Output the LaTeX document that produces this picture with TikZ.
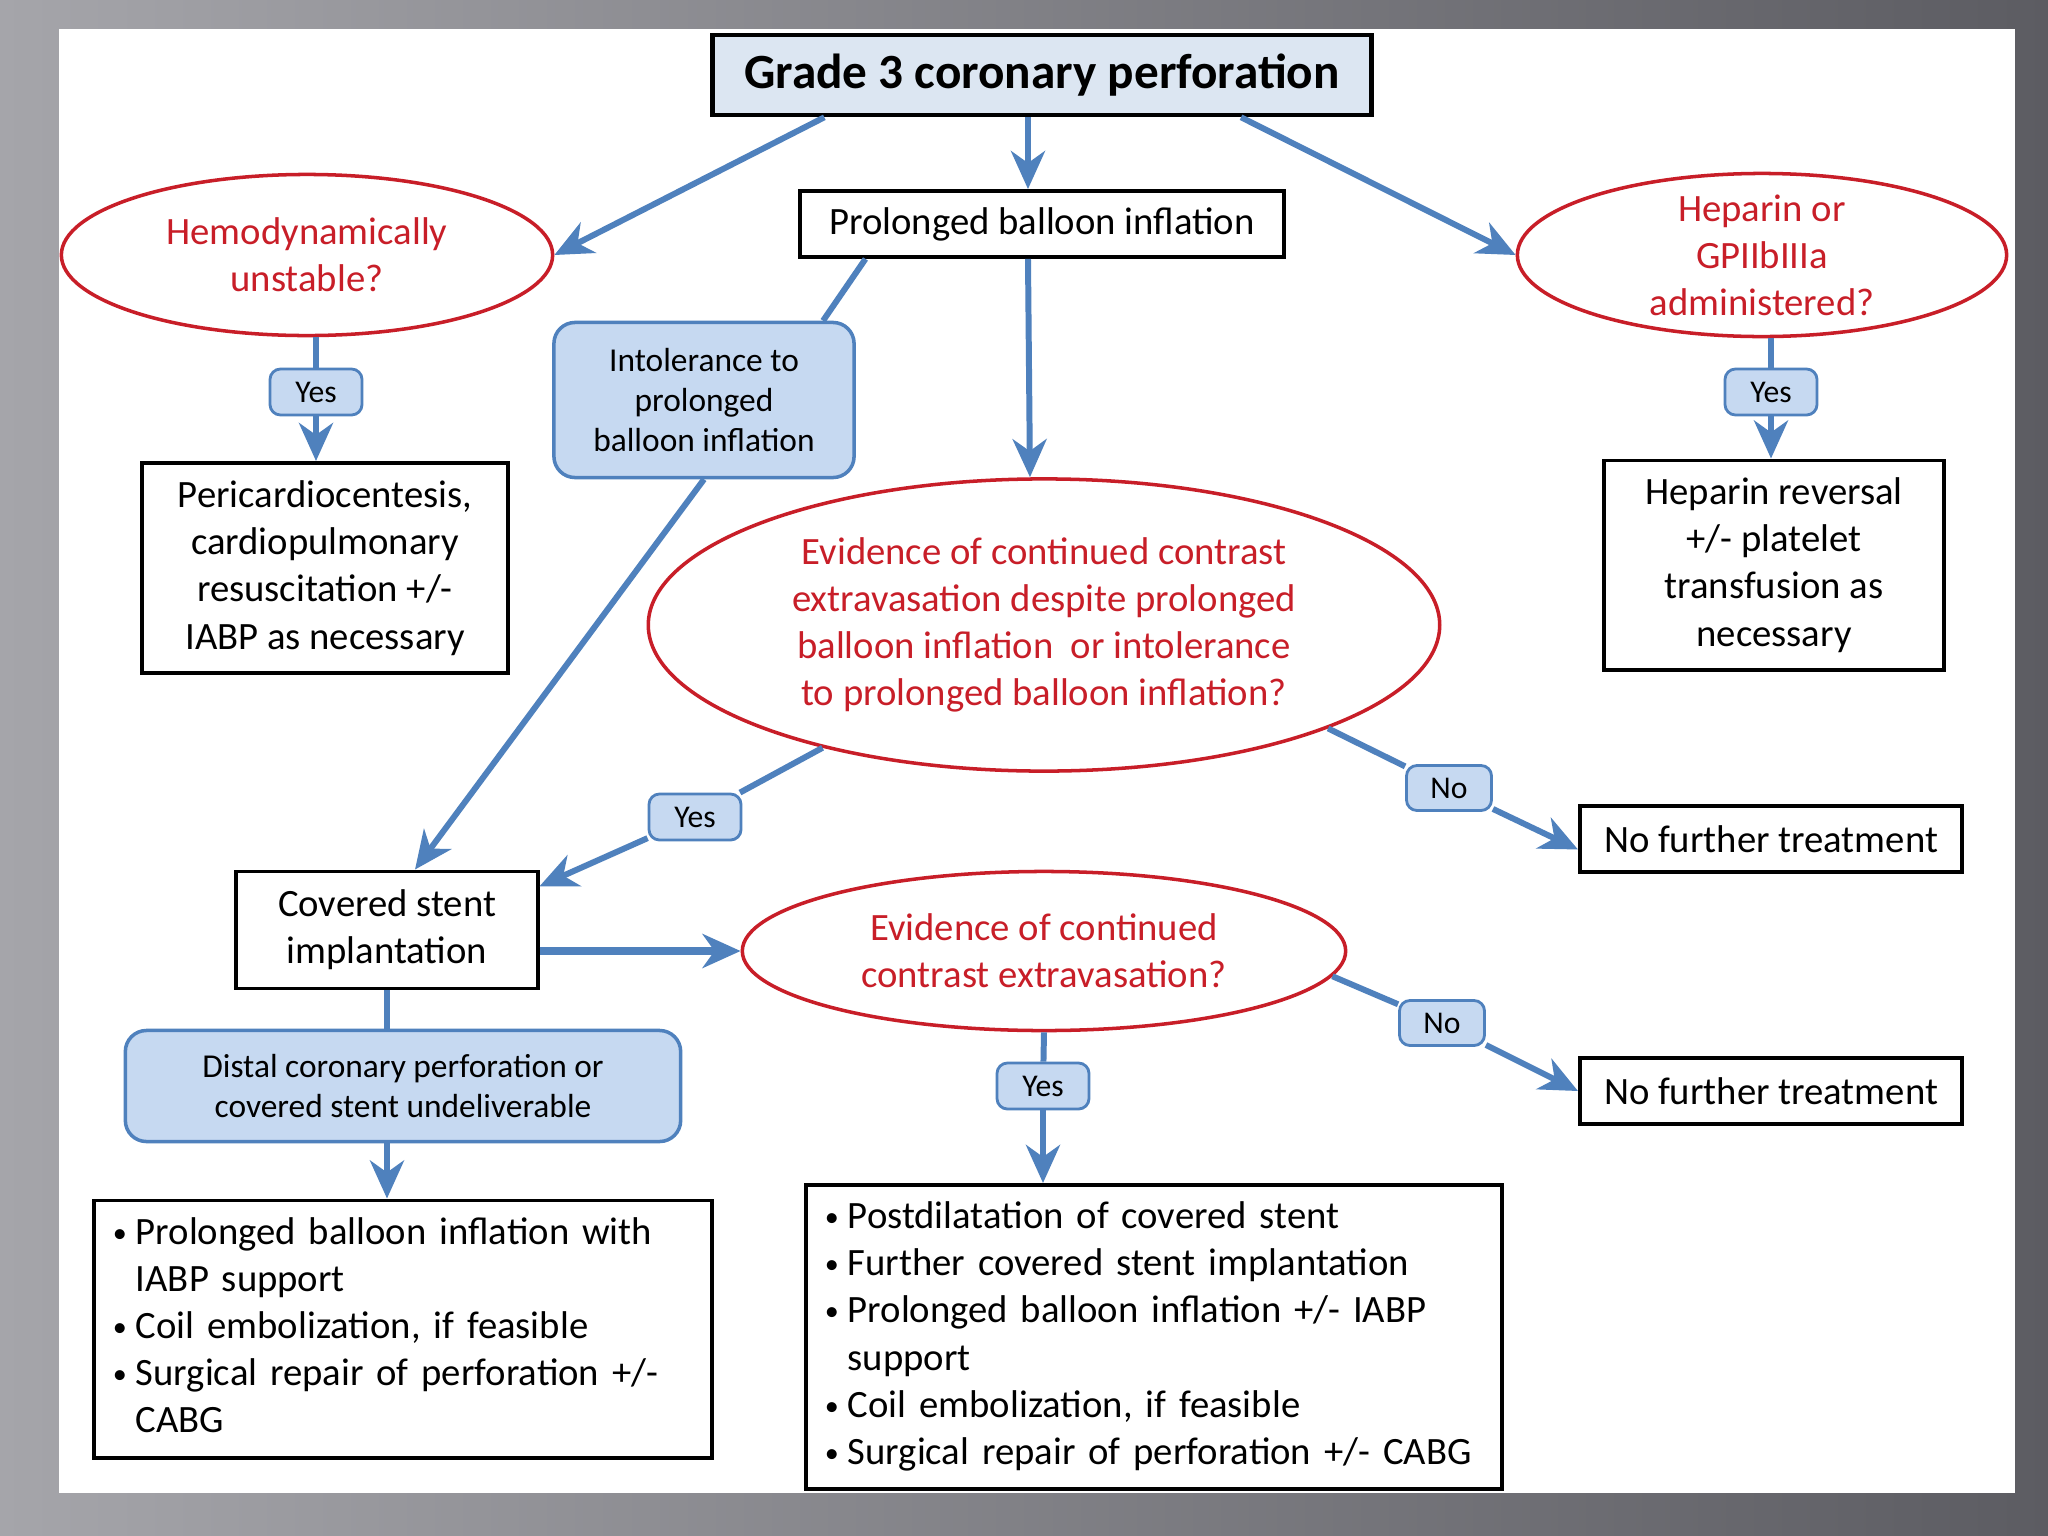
\documentclass[tikz,border=0pt]{standalone}
\usepackage{fontspec}
\setmainfont{Carlito}
\usetikzlibrary{arrows.meta,positioning,calc,shapes.geometric}

\definecolor{FlowBlue}{RGB}{79,129,189}
\definecolor{LabelBlue}{RGB}{198,217,241}
\definecolor{TitleBlue}{RGB}{220,230,242}
\definecolor{AskRed}{RGB}{200,30,40}
\definecolor{FrameLight}{RGB}{165,165,170}
\definecolor{FrameDark}{RGB}{92,92,98}

\newcommand{\bul}{\raisebox{0.6pt}{\fontsize{8}{8}\selectfont\textbullet}}

\tikzset{
  startbox/.style={rectangle, draw=black, line width=1.3pt, fill=TitleBlue,
    font=\fontsize{14}{17}\selectfont\bfseries, inner sep=0pt},
  stepbox/.style={rectangle, draw=black, line width=1.1pt, fill=white, align=center,
    font=\fontsize{11}{13.4}\selectfont, inner sep=0pt},
  question/.style={ellipse, draw=AskRed, line width=1pt, fill=white, text=AskRed,
    align=center, font=\fontsize{11}{13.4}\selectfont, inner sep=0pt},
  reason/.style={rectangle, rounded corners=6pt, draw=FlowBlue, line width=1pt,
    fill=LabelBlue, align=center, font=\fontsize{9.5}{11.4}\selectfont, inner sep=0pt},
  answer/.style={rectangle, rounded corners=3pt, draw=FlowBlue, line width=0.8pt,
    fill=LabelBlue, font=\fontsize{9}{11}\selectfont, inner sep=0pt,
    minimum width=0.92cm, minimum height=0.46cm},
  listbox/.style={stepbox, align=left, inner xsep=0.19cm},
  link/.style={draw=FlowBlue, line width=1.7pt},
  flow/.style={link, -{Stealth[length=0.38cm, width=0.34cm, inset=0.12cm]}},
}

\begin{document}
\begin{tikzpicture}[x=0.01cm, y=-0.01cm]
\useasboundingbox (0,0) rectangle (2048,1536);
% grey frame and white sheet
\shade[left color=FrameLight, right color=FrameDark] (0,0) rectangle (2048,1536);
\fill[white] (59,29) rectangle (2015,1493);

% top row
\node[startbox, minimum width=6.59cm, minimum height=0.80cm] (grade) at (1042,75) {Grade 3 coronary perforation};
\node[stepbox, minimum width=4.83cm, minimum height=0.66cm] (pbi) at (1042,224) {Prolonged balloon inflation};
\node[question, minimum width=4.91cm, minimum height=1.61cm] (hemo) at (307,255) {Hemodynamically\\unstable?};
\node[question, minimum width=4.89cm, minimum height=1.63cm, inner ysep=-0.1cm] (hep) at (1762,255) {Heparin or\\GPIIbIIIa\\administered?};

% answers to the side questions
\node[answer] (yes1) at (316,392) {Yes};
\node[answer] (yes2) at (1771,392) {Yes};
\node[stepbox, minimum width=3.65cm, minimum height=2.10cm] (peri) at (325,568) {Pericardiocentesis,\\cardiopulmonary\\resuscitation +/-\\IABP as necessary};
\node[stepbox, minimum width=3.39cm, minimum height=2.09cm] (heprev) at (1774,565) {Heparin reversal\\+/- platelet\\transfusion as\\necessary};

% middle
\node[question, minimum width=7.91cm, minimum height=2.92cm] (bigq) at (1044,625) {Evidence of continued contrast\\extravasation despite prolonged\\balloon inflation\ \ or intolerance\\to prolonged balloon inflation?};
\node[stepbox, minimum width=3.01cm, minimum height=1.17cm] (covered) at (387,930) {Covered stent\\implantation};
\node[stepbox, minimum width=3.82cm, minimum height=0.66cm] (nf1) at (1771,839) {No further treatment};
\node[question, minimum width=6.03cm, minimum height=1.59cm] (smallq) at (1044,951) {Evidence of continued\\contrast extravasation?};
\node[stepbox, minimum width=3.82cm, minimum height=0.66cm] (nf2) at (1771,1091) {No further treatment};
\node[answer] (yes3) at (695,817) {Yes};
\node[answer, minimum width=0.85cm, minimum height=0.45cm] (no1) at (1449,788) {No};
\node[answer, minimum width=0.85cm, minimum height=0.45cm] (no2) at (1442,1023) {No};
\node[answer] (yes4) at (1043,1086) {Yes};
\node[reason, minimum width=5.55cm, minimum height=1.11cm] (distal) at (403,1086) {Distal coronary perforation or\\covered stent undeliverable};

% bottom lists
\node[listbox, text width=5.80cm, minimum height=2.57cm] (list1) at (403,1329) {%
  \begin{tabular}{@{}p{0.23cm}@{}l@{}}
    \bul & Prolonged balloon inflation with\\
         & IABP support\\
    \bul & Coil embolization, if feasible\\
    \bul & Surgical repair of perforation +/-\\
         & CABG
  \end{tabular}};
\node[listbox, text width=6.58cm, minimum height=3.04cm] (list2) at (1154,1337) {%
  \begin{tabular}{@{}p{0.23cm}@{}l@{}}
    \bul & Postdilatation of covered stent\\
    \bul & Further covered stent implantation\\
    \bul & Prolonged balloon inflation +/- IABP\\
         & support\\
    \bul & Coil embolization, if feasible\\
    \bul & Surgical repair of perforation +/- CABG
  \end{tabular}};

% connectors
\draw[flow] (grade.191) -- (hemo.east);
\draw[flow] ([xshift=-0.14cm]grade.south) -- ([xshift=-0.14cm]pbi.north);
\draw[flow] (grade.-12) -- (hep.west);
\draw[link] (hemo.south -| yes1) -- (yes1);
\draw[flow] (yes1) -- (yes1 |- peri.north);
\draw[link] (hep.south -| yes2) -- (yes2);
\draw[flow] (yes2) -- (yes2 |- heprev.north);
\draw[flow] ([xshift=-0.14cm]pbi.south) -- ([xshift=-0.14cm]bigq.north);
\node[reason, minimum width=3.00cm, minimum height=1.55cm] (intol) at (704,400) {Intolerance to\\prolonged\\balloon inflation};
\draw[link] ([xshift=0.67cm]pbi.south west) -- ([xshift=1.19cm]intol.north);
\draw[flow] (intol.south) -- ([xshift=0.28cm]covered.north);
\draw[link] (bigq.209) -- (yes3);
\draw[flow] (yes3) -- (covered.16);
\draw[link] (bigq.-20) -- (no1);
\draw[flow] (no1) -- ($(nf1.west)!0.3!(nf1.south west)$);
\draw[flow, line width=2.4pt] (covered.east |- smallq.west) -- (smallq.west);
\draw[link] (smallq.-5) -- (no2);
\draw[flow] (no2) -- (nf2.west);
\draw[link] (smallq.south) -- (yes4);
\draw[flow] (yes4) -- (yes4 |- list2.north);
\draw[link] (covered.south) -- (covered.south |- distal.north);
\draw[flow] (distal.south -| covered.south) -- (list1.north -| covered.south);
\end{tikzpicture}
\end{document}
